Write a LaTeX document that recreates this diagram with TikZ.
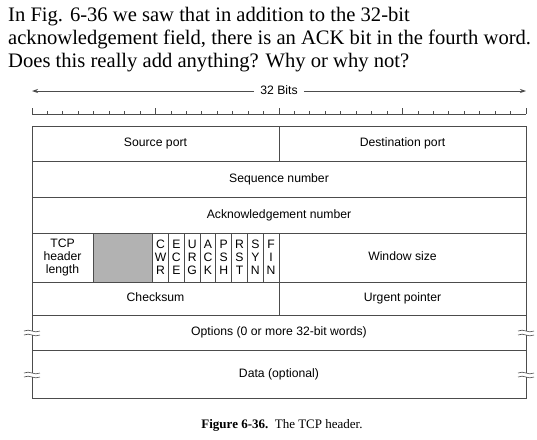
\documentclass[tikz,border=0pt]{standalone}
\usepackage{fontspec}
\setmainfont{Liberation Serif}
\newfontfamily\hdrfont{Liberation Sans}
\usetikzlibrary{arrows.meta}

\begin{document}
\begin{tikzpicture}[x=1pt,y=-1pt,
  >={Stealth[length=6pt,width=4pt]},
  frame/.style={line width=0.8pt,draw=black!70},
  field/.style={font=\hdrfont\fontsize{12.2}{13}\selectfont,inner sep=0pt,text height=8.6pt,text depth=2.5pt},
  flag/.style={font=\hdrfont\fontsize{12.2}{13}\selectfont,inner sep=0pt,align=center},
  question/.style={font=\fontsize{20.6}{23}\selectfont,inner sep=0pt,anchor=base west}]
\useasboundingbox (0,0) rectangle (537,439);
\node[question] (line1) at (8,21.5) {In Fig. 6-36 we saw that in addition to the 32-bit};
\node[question] (line2) at (8,44.5) {acknowledgement field, there is an ACK bit in the fourth word.};
\node[question] (line3) at (8,67.5) {Does this really add anything? Why or why not?};
\node[field,inner xsep=6pt] (bits) at (279,91) {32 Bits};
\coordinate (bitsL) at (32,91);
\coordinate (bitsR) at (526,91);
\draw[->,frame] (bits.west) -- (bitsL);
\draw[->,frame] (bits.east) -- (bitsR);
\draw[frame] (32,114) -- (526,114);
\foreach \i in {0,...,32} {
  \pgfmathsetmacro\tk{mod(\i,8)==0 ? 6 : 3}
  \draw[frame] (32+\i*15.4375,114) -- ++(0,-\tk);
}
\fill[black!30] (93,233) rectangle (152.7,282);
\draw[frame] (32,126) rectangle (526,398);
\foreach \y in {161,197,233,282,315,350}
  \draw[frame] (32,\y) -- (526,\y);
\draw[frame] (279,126) -- (279,161);
\draw[frame] (279,233) -- (279,315);
\draw[frame] (93,233) -- (93,282);
\foreach \i in {0,...,7}
  \draw[frame] (152.7+\i*15.79,233) -- ++(0,49);
\node[field] (srcport) at (155.5,143.5) {Source port};
\node[field] (dstport) at (402.5,143.5) {Destination port};
\node[field] (seqnum) at (279,179) {Sequence number};
\node[field] (acknum) at (279,215) {Acknowledgement number};
\node[flag] (hdrlen) at (62.5,257.5) {TCP\\header\\length};
\foreach \f [count=\i from 0] in {{C\\W\\R},{E\\C\\E},{U\\R\\G},{A\\C\\K},{P\\S\\H},{R\\S\\T},{S\\Y\\N},{F\\I\\N}}
  \node[flag] (flag\i) at (160.6+\i*15.79,257.5) {\f};
\node[field] (winsize) at (402.5,257.5) {Window size};
\node[field] (checksum) at (155.5,298.5) {Checksum};
\node[field] (urgptr) at (402.5,298.5) {Urgent pointer};
\node[field] (options) at (279,332.5) {Options (0 or more 32-bit words)};
\node[field] (data) at (279,374) {Data (optional)};
\foreach \x in {32,526}
  \foreach \y in {333,375} {
    \fill[white] (\x-1.5,\y-2) rectangle (\x+1.5,\y+2);
    \draw[frame,line width=0.6pt] (\x-8,\y-2) .. controls (\x-2,\y-5) and (\x+2,\y+1) .. (\x+8,\y-2);
    \draw[frame,line width=0.6pt] (\x-8,\y+2) .. controls (\x-2,\y-1) and (\x+2,\y+5) .. (\x+8,\y+2);
  }
\node[font=\fontsize{13}{15}\selectfont,inner sep=0pt,anchor=base] (caption) at (282,428) {\textbf{Figure 6-36.}\ \ The TCP header.};
\end{tikzpicture}
\end{document}
